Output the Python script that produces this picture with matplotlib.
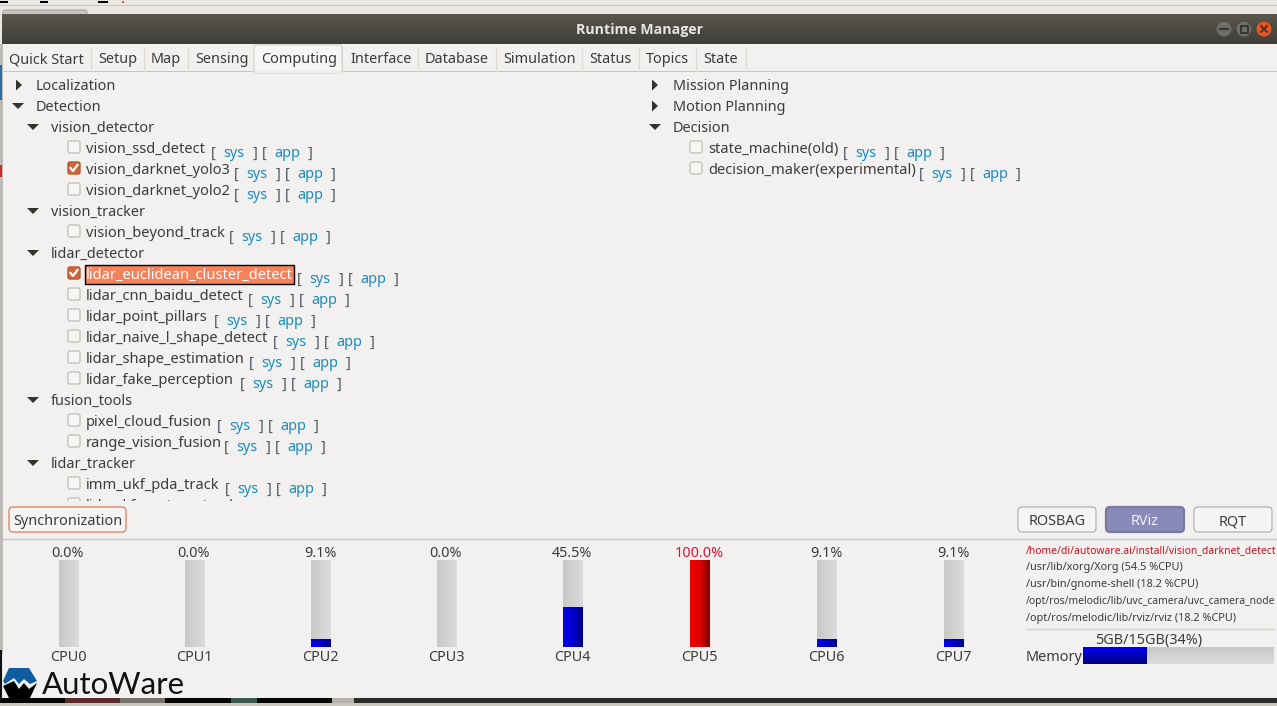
import matplotlib
matplotlib.use("Agg")
import matplotlib.pyplot as plt
from matplotlib.colors import LinearSegmentedColormap
import numpy as np
from matplotlib.patches import Rectangle, FancyBboxPatch, Polygon, Circle

W, H = 1277, 706
FONT = "Noto Sans"
TXT = "#3d3c3a"
BG = "#f2f1ef"
LINK = "#1a8bbf"

# pestañas
tabs = ["Quick Start", "Setup", "Map", "Sensing", "Computing", "Interface",
        "Database", "Simulation", "Status", "Topics", "State"]
tab_x = [9, 98, 151, 195, 261, 350, 425, 503, 589, 646, 703]
tab_sep = [91, 144, 188, 254, 342, 418, 496, 582, 639, 696, 746]

# arbol: (texto, nivel, y, abierto)
groups_left = [("Localization", 0, 85, False), ("Detection", 0, 106, True),
               ("vision_detector", 1, 127, True), ("vision_tracker", 1, 211, True),
               ("lidar_detector", 1, 253, True), ("fusion_tools", 1, 400, True),
               ("lidar_tracker", 1, 463, True)]
groups_right = [("Mission Planning", 85, False), ("Motion Planning", 106, False),
                ("Decision", 127, True)]

# nodos: (texto, y, x del primer corchete, marcado)
nodes_left = [("vision_ssd_detect", 148, 211, False),
              ("vision_darknet_yolo3", 169, 234, True),
              ("vision_darknet_yolo2", 190, 234, False),
              ("vision_beyond_track", 232, 229, False),
              ("lidar_euclidean_cluster_detect", 274, 297, True),
              ("lidar_cnn_baidu_detect", 295, 248, False),
              ("lidar_point_pillars", 316, 214, False),
              ("lidar_naive_l_shape_detect", 337, 273, False),
              ("lidar_shape_estimation", 358, 249, False),
              ("lidar_fake_perception", 379, 240, False),
              ("pixel_cloud_fusion", 421, 217, False),
              ("range_vision_fusion", 442, 224, False),
              ("imm_ukf_pda_track", 484, 225, False)]
nodes_right = [("state_machine(old)", 148, 843, False),
               ("decision_maker(experimental)", 169, 919, False)]

# CPU
cpu_names = ["CPU0", "CPU1", "CPU2", "CPU3", "CPU4", "CPU5", "CPU6", "CPU7"]
cpu_values = [0.0, 0.0, 9.1, 0.0, 45.5, 100.0, 9.1, 9.1]
cpu_x = [59, 185, 311, 437, 563, 690, 817, 944]

procs = ["/home/di/autoware.ai/install/vision_darknet_detect",
         "/usr/lib/xorg/Xorg (54.5 %CPU)",
         "/usr/bin/gnome-shell (18.2 %CPU)",
         "/opt/ros/melodic/lib/uvc_camera/uvc_camera_node",
         "/opt/ros/melodic/lib/rviz/rviz (18.2 %CPU)"]
proc_y = [549, 566, 583, 600, 617]
proc_size = [7.45, 7.85, 7.85, 7.4, 7.85]

mem_label = "5GB/15GB(34%)"
mem_percent = 33.5

buttons = [("ROSBAG", 1018, 78), ("RViz", 1106, 78), ("RQT", 1194, 78)]

fig = plt.figure(figsize=(W / 100, H / 100), dpi=100)
ax = fig.add_axes([0, 0, 1, 1])
ax.set_axis_off()


def txt(x, y, s, size=10.4, color=TXT, ha="left", family=FONT, dy=5, **kw):
    return ax.text(x, y + dy, s, fontsize=size, color=color, ha=ha, va="baseline",
                   family=family, **kw)


def rect(x, y, w, h, fc, z=1, **kw):
    ax.add_patch(Rectangle((x, y), w, h, fc=fc, ec="none", zorder=z, **kw))


def rbox(x, y, w, h, fc, ec, r=3, lw=1.0, z=2):
    ax.add_patch(FancyBboxPatch((x + r, y + r), w - 2 * r, h - 2 * r,
                                boxstyle=f"round,pad={r}", fc=fc, ec=ec, lw=lw, zorder=z))


def arrow(x, y, opened):
    if opened:
        pts = [(x - 6, y - 3), (x + 6, y - 3), (x, y + 3)]
    else:
        pts = [(x - 3, y - 5.5), (x + 3, y), (x - 3, y + 5.5)]
    ax.add_patch(Polygon(pts, fc="#33322f", ec="none", zorder=3))


def checkbox(x, y, on):
    if on:
        rbox(x, y - 6, 12, 12, "#d2663a", "#b9572f", r=2)
        ax.plot([x + 2.5, x + 5, x + 9.5], [y, y + 3, y - 3], color="white", lw=1.6, zorder=4)
    else:
        rbox(x, y - 6, 12, 12, "#f7f6f5", "#c6c3be", r=2)


def links(x, y):
    y = y + 4
    txt(x, y, "[", color="#4a5a66")
    txt(x + 12, y, "sys", color=LINK)
    txt(x + 42, y, "]", color="#4a5a66")
    txt(x + 51, y, "[", color="#4a5a66")
    txt(x + 63, y, "app", color=LINK)
    txt(x + 97, y, "]", color="#4a5a66")


# fondo del escritorio
rect(0, 0, W, H, "#e9e7e3", z=0)
rect(0, 5, W, 1, "#cbc8c3", z=0)
rbox(3, 10, 84, 8, "#c9c6c1", "#a9a6a1", r=2, lw=0.8, z=0.2)
for x0, x1, c in [(0, 8, "black"), (40, 48, "black"), (98, 108, "black"), (122, 123.5, "#d2663a")]:
    rect(x0, 0.5, x1 - x0, 2, c, z=0)
rect(0, 44, 2.5, 610, "#bdbbb8", z=0.1)
rect(0, 65, 2, 35, "#2f6ea5", z=0.2)
rect(0, 165, 2, 12, "#c62a2a", z=0.2)
rect(0, 650, 2, 48, "#111111", z=0.2)

# ventana
rect(2.5, 44, W, 654, BG, z=0.5)
grad = np.linspace(0, 1, 30)[:, None]
ax.imshow(grad, extent=(2, W, 44, 14), aspect="auto", zorder=0.5,
          cmap=LinearSegmentedColormap.from_list("t", ["#5a564d", "#3f3e39"]))
ax.set_xlim(0, W)
ax.set_ylim(H, 0)
txt(640, 29, "Runtime Manager", size=10.2, color="#e8e6e1", ha="center", family="Open Sans",
    weight="bold", zorder=3)

# botones de la ventana
for cx, fc in [(1224, "#6e6d67"), (1244, "#6e6d67"), (1264, "#e95420")]:
    ax.add_patch(Circle((cx, 29), 8, fc=fc, ec="#45443f", lw=0.6, zorder=3))
ax.plot([1220, 1228], [29, 29], color="#33322f", lw=1.3, zorder=4)
ax.add_patch(Rectangle((1240.5, 25.5), 7, 7, fc="none", ec="#33322f", lw=1.3, zorder=4))
ax.plot([1261, 1267], [26, 32], color="#33322f", lw=1.2, zorder=4)
ax.plot([1261, 1267], [32, 26], color="#33322f", lw=1.2, zorder=4)

# pestañas
rect(2, 71, W - 2, 1, "#c9c6c2", z=1)
rbox(254, 45, 88, 28, "#f7f6f5", "#d8d5d1", r=2, z=1.5)
rect(255, 70, 86, 3, BG, z=1.6)
for x in tab_sep:
    ax.plot([x, x], [47, 71], color="#e0ddd9", lw=1, zorder=1)
for name, x in zip(tabs, tab_x):
    txt(x, 58, name, zorder=3)

# arbol
for name, level, y, opened in groups_left:
    if level == 0:
        arrow(18 if opened else 19, y, opened)
    else:
        arrow(33, y, opened)
    txt(36 if level == 0 else 51, y, name)
for name, y, opened in groups_right:
    arrow(655, y, opened)
    txt(673, y, name)

for name, y, bx, on in nodes_left:
    checkbox(68, y - 1, on)
    if name == "lidar_euclidean_cluster_detect":
        ax.add_patch(Rectangle((84.5, 264.5), 209, 19, fc="#f58258", ec="black", lw=1.0, zorder=2))
        txt(86, y, name, size=10.55, color="white", zorder=3)
    else:
        txt(86, y, name, size=10.55, zorder=3)
    links(bx, y)
for name, y, bx, on in nodes_right:
    checkbox(690, y - 1, on)
    txt(708, y, name, size=10.55, zorder=3)
    links(bx, y)

# fila cortada por el panel inferior
checkbox(68, 504, False)
txt(86, 505, "lidar_kf_contour_track", size=10.55, zorder=3)
links(271, 505)
rect(2.5, 501, W, 197, BG, z=5)

# botones
rbox(9, 507, 117, 25, "#f6f5f4", "#e07a50", r=4, lw=0.9, z=6)
txt(67.5, 520, "Synchronization", ha="center", zorder=7)
for name, x, w in buttons:
    on = name == "RViz"
    rbox(x, 507, w, 25, "#8a8ab8" if on else "#f6f5f4", "#7a7a9e" if on else "#b5b2ad",
         r=4, lw=1.6 if on else 0.9, z=6)
    txt(x + w / 2, 520, name, ha="center", color="#eeeef5" if on else TXT, zorder=7)
ax.plot([3, W], [538.5, 538.5], color="#c9c6c2", lw=1, zorder=6)

# CPU
gray = LinearSegmentedColormap.from_list("g", ["#c8c8c8", "#dcdcdc"])
blue = LinearSegmentedColormap.from_list("b", ["#0000e6", "#0000d0", "#000080"])
red = LinearSegmentedColormap.from_list("r", ["#ee0000", "#dd0000", "#800000"])
row = np.linspace(0, 1, 40)[None, :]
for name, value, x in zip(cpu_names, cpu_values, cpu_x):
    cax = fig.add_axes([x / W, 1 - 647 / H, 20 / W, 87 / H], zorder=8)
    cax.set_axis_off()
    cax.imshow(row, extent=(0, 1, 0, 100), aspect="auto", cmap=gray)
    bar = cax.bar(0.5, value, width=1, color="none")[0]
    im = cax.imshow(row, extent=(0, 1, 0, 100), aspect="auto", cmap=red if value >= 100 else blue)
    im.set_clip_path(bar)
    cax.set_xlim(0, 1)
    cax.set_ylim(0, 100)
    label = f"{value:.1f}%"
    txt(x + 9, 552, label, ha="center", color="#dd1133" if value >= 100 else TXT, zorder=7)
    txt(x + 9, 656, name, ha="center", zorder=7)

# procesos
for i, (p, y, s) in enumerate(zip(procs, proc_y, proc_size)):
    txt(1026, y, p, size=s, color="#cc1122" if i == 0 else TXT, dy=4, zorder=7)
ax.plot([1026, 1274], [628.5, 628.5], color="#d6d3cf", lw=1, zorder=6)

# memoria
txt(1149, 639, mem_label, ha="center", zorder=7)
txt(1026, 656, "Memory", zorder=7)
col = np.linspace(0, 1, 20)[:, None]
mem_ax = fig.add_axes([1083 / W, 1 - 664 / H, 191 / W, 17 / H], zorder=8)
mem_ax.set_axis_off()
mem_ax.imshow(col, extent=(0, 100, 0, 1), aspect="auto", cmap=gray)
bar = mem_ax.barh(0.5, mem_percent, height=1, color="none")[0]
im = mem_ax.imshow(col, extent=(0, 100, 0, 1), aspect="auto",
                   cmap=LinearSegmentedColormap.from_list("m", ["#0000f0", "#000080"]))
im.set_clip_path(bar)
mem_ax.set_xlim(0, 100)
mem_ax.set_ylim(0, 1)

# logo
ax.add_patch(Polygon([(3, 681), (9, 668), (29, 668), (37, 681), (30, 684), (24, 679), (19, 684), (14, 678), (5, 684)],
                     fc="#0f5c9e", ec="none", zorder=7))
ax.add_patch(Polygon([(3, 686), (14, 681), (19, 689), (24, 683), (29, 689), (37, 683), (30, 698), (9, 698)],
                     fc="black", ec="none", zorder=7))
txt(42, 694, "AutoWare", size=22.5, color="#111111", family="Lato", dy=0, zorder=7)

# borde inferior
rect(0, 698, W, 5, "#2c2c2a", z=7)
rect(0, 698, 332, 5, "#050505", z=7.1)
rect(65, 698, 55, 5, "#5a2a2a", z=7.2)
rect(120, 698, 45, 5, "#777470", z=7.2)
rect(231, 698, 26, 5, "#3d5a50", z=7.2)
rect(332, 698, 22, 5, "#b5b2ad", z=7.2)
rect(0, 703, W, 3, "#c9c6be", z=7)

fig.savefig("out.png", dpi=100)
